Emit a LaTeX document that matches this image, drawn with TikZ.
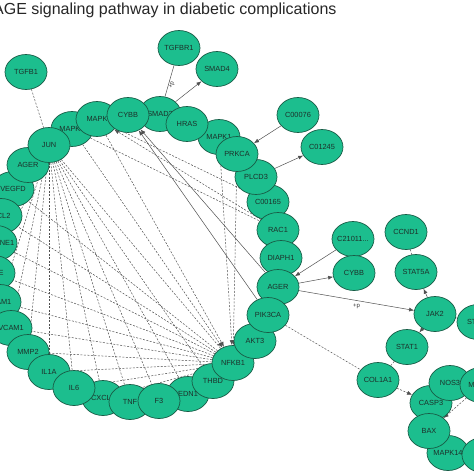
\documentclass[tikz,border=0pt]{standalone}
\usepackage{fontspec}
\setmainfont{Liberation Sans}
\usetikzlibrary{arrows.meta,shapes.geometric}
\pgfdeclarelayer{bg}
\pgfsetlayers{bg,main}
\definecolor{nfill}{RGB}{28,190,142}
\definecolor{nline}{RGB}{24,92,70}
\definecolor{ntext}{RGB}{28,48,42}
\definecolor{eline}{RGB}{80,80,80}
\newcommand{\nlab}[1]{\makebox[0pt]{#1}}
\begin{document}
\begin{tikzpicture}[x=1pt,y=-1pt,
  gn/.style={ellipse, draw=nline, fill=nfill, line width=0.7pt, minimum width=42pt, minimum height=35pt, inner sep=0pt, font=\fontsize{7.4}{8}\selectfont, text=ntext},
  sl/.style={draw=eline, line width=0.5pt},
  dl/.style={draw=eline, line width=0.5pt, dash pattern=on 2pt off 1.5pt},
  tip/.style={-{Latex[length=5pt,width=4pt]}},
  pl/.style={font=\fontsize{6}{7}\selectfont, text=black!80, inner sep=1pt}]
\useasboundingbox (0,0) rectangle (474,474);
\clip (0,0) rectangle (474,474);
\node[anchor=base east, font=\fontsize{16}{19}\selectfont, text=black!85] (title) at (340,14.5) {AGE signaling pathway in diabetic complications};
% standalone nodes
\node[gn] (TGFB1) at (26,72) {\nlab{TGFB1}};
\node[gn] (TGFBR1) at (179,48) {\nlab{TGFBR1}};
\node[gn] (SMAD4) at (217,69) {\nlab{SMAD4}};
\node[gn] (C00076) at (298,115) {\nlab{C00076}};
\node[gn] (C01245) at (322,147) {\nlab{C01245}};
% circle
\node[gn] (VEGFD) at (13,189) {\nlab{VEGFD}};
\node[gn] (AGERl) at (28,165) {\nlab{AGER}};
\node[gn] (CCL2) at (1,216) {\nlab{CCL2}};
\node[gn] (SERPINE1) at (-4,243) {\nlab{SERPINE1}};
\node[gn] (SELE) at (-6,273) {\nlab{SELE}};
\node[gn] (ICAM1) at (0,302) {\nlab{ICAM1}};
\node[gn] (VCAM1) at (11,328) {\nlab{VCAM1}};
\node[gn] (MMP2) at (28,352) {\nlab{MMP2}};
\node[gn] (IL1A) at (49,372) {\nlab{IL1A}};
\node[gn] (CXCL8) at (103,398) {\nlab{CXCL8}};
\node[gn] (IL6) at (74,388) {\nlab{IL6}};
\node[gn] (EDN1) at (188,394) {\nlab{EDN1}};
\node[gn] (TNF) at (130,402) {\nlab{TNF}};
\node[gn] (F3) at (159,401) {\nlab{F3}};
\node[gn] (THBD) at (213,381) {\nlab{THBD}};
\node[gn] (NFKB1) at (233,363) {\nlab{NFKB1}};
\node[gn] (AKT3) at (255,341) {\nlab{AKT3}};
\node[gn] (C00165) at (268,202) {\nlab{C00165}};
\node[gn] (RAC1) at (278,230) {\nlab{RAC1}};
\node[gn] (DIAPH1) at (281,258) {\nlab{DIAPH1}};
\node[gn] (AGERr) at (278,287) {\nlab{AGER}};
\node[gn] (PIK3CA) at (268,315) {\nlab{PIK3CA}};
\node[gn] (PLCD3) at (256,177) {\nlab{PLCD3}};
\node[gn] (MAPK1) at (219,137) {\nlab{MAPK1}};
\node[gn] (PRKCA) at (237,154) {\nlab{PRKCA}};
\node[gn] (SMAD) at (160,114) {\nlab{SMAD2}};
\node[gn] (HRAS) at (187,124) {\nlab{HRAS}};
\node[gn] (MAPKa) at (72,129) {\nlab{MAPK8}};
\node[gn] (MAPKb) at (97,119) {\nlab{MAPK}};
\node[gn] (CYBB) at (128,115) {\nlab{CYBB}};
\node[gn] (JUN) at (49,145) {\nlab{JUN}};
% right part
\node[gn] (C21011) at (353,239) {\nlab{C21011...}};
\node[gn] (CYBBr) at (354,273) {\nlab{CYBB}};
\node[gn] (CCND1) at (406,232) {\nlab{CCND1}};
\node[gn] (STAT5A) at (416,272) {\nlab{STAT5A}};
\node[gn] (STAT3) at (478,322) {\nlab{STAT3}};
\node[gn] (JAK2) at (435,314) {\nlab{JAK2}};
\node[gn] (STAT1) at (407,347) {\nlab{STAT1}};
\node[gn] (COL1A1) at (378,380) {\nlab{COL1A1}};
\node[gn] (CASP3) at (431,403) {\nlab{CASP3}};
\node[gn] (NOS3) at (450,383) {\nlab{NOS3}};
\node[gn] (MAPKc) at (481,385) {\nlab{MAPK3}};
\node[gn] (MAPK14) at (448,453) {\nlab{MAPK14}};
\node[gn] (XR) at (483,455) {};
\node[gn] (BAX) at (429,431) {\nlab{BAX}};
\begin{pgfonlayer}{bg}
  % JUN fan
  \foreach \t in {CCL2,SERPINE1,SELE,ICAM1,VCAM1,MMP2,IL1A,IL6,CXCL8,TNF,F3,EDN1,THBD,NFKB1}
    \draw[dl] (JUN) -- (\t);
  % NFKB1 fan
  \foreach \t in {VEGFD,CCL2,SERPINE1,SELE,ICAM1,VCAM1,MMP2,IL1A,IL6,CXCL8,TNF}
    \draw[dl] (NFKB1) -- (\t);
  \draw[dl] (TGFB1) -- (JUN);
  \draw[dl,tip] (MAPKb) -- (NFKB1);
  \draw[dl,tip] (MAPKa) -- (NFKB1);
  \draw[dl,tip] (MAPK1) -- (NFKB1);
  \draw[dl,tip] (PRKCA) -- (NFKB1);
  \draw[dl,tip] (C00165) -- (MAPKb);
  \draw[dl,tip] (RAC1) -- (MAPKb);
  \draw[dl] (MAPKa) -- (RAC1);
  \draw[dl] (HRAS) -- (C00165);
  \draw[sl,tip] (AGERr) -- (CYBB);
  \draw[sl,tip] (PIK3CA) -- (CYBB);
  \draw[sl] (TGFBR1) -- node[pl, pos=0.6, sloped, below] {+p} (SMAD);
  \draw[sl,tip] (SMAD) -- (SMAD4);
  \draw[sl,tip] (C00076) -- (PRKCA);
  \draw[sl,tip] (PLCD3) -- (C01245);
  \draw[sl,tip] (C21011) -- (AGERr);
  \draw[sl,tip] (AGERr) -- (CYBBr);
  \draw[sl,tip] (AGERr) -- node[pl, pos=0.5, below=2pt] {+p} (JAK2);
  \draw[sl,tip] (JAK2) -- (STAT5A);
  \draw[sl,tip] (JAK2) -- (STAT1);
  \draw[sl,tip] (JAK2) -- (STAT3);
  \draw[dl] (CCND1) -- (STAT5A);
  \draw[dl] (STAT1) -- (COL1A1);
  \draw[dl] (PIK3CA) -- (COL1A1);
  \draw[dl,tip] (COL1A1) -- (CASP3);
  \draw[dl,tip] (MAPKc) -- (BAX);
  \draw[dl,tip] (BAX) -- (XR);
\end{pgfonlayer}
\end{tikzpicture}
\end{document}
